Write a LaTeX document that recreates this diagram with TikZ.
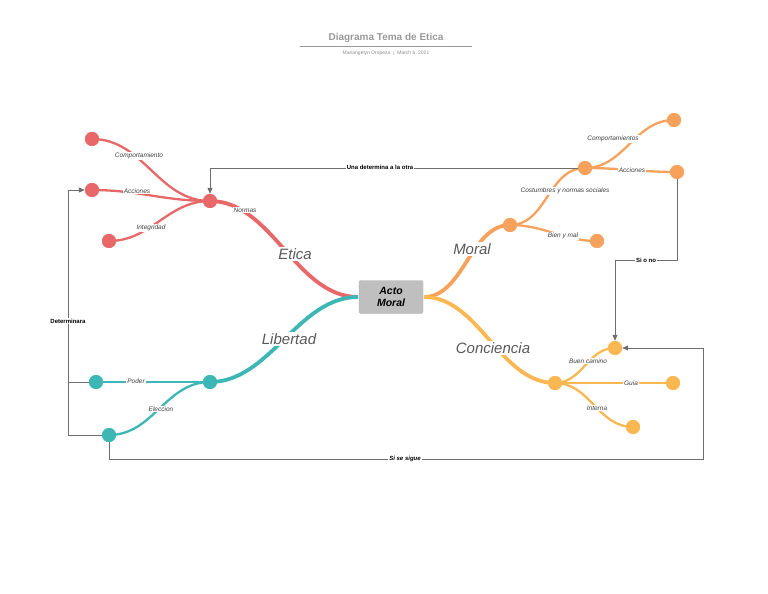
\documentclass[tikz,border=0pt]{standalone}
\usepackage{fontspec}
\setmainfont{Liberation Sans}
\usetikzlibrary{arrows.meta}
\definecolor{cred}{HTML}{E8686A}
\definecolor{corg}{HTML}{F7A25C}
\definecolor{cyel}{HTML}{FBB852}
\definecolor{ctea}{HTML}{3CB7B5}
\definecolor{cgr}{HTML}{6E6E6E}
\begin{document}
\begin{tikzpicture}[x=1pt,y=-1pt,
  dot/.style={circle,fill=#1,minimum size=14pt,inner sep=0pt},
  main/.style={line width=3.8pt,draw=#1},
  leaf/.style={line width=2.3pt,draw=#1},
  lbl/.style={fill=white,inner sep=1pt,font=\fontsize{6.5}{7}\selectfont\itshape,text=black!75},
  big/.style={fill=white,inner sep=1pt,font=\fontsize{15}{17}\selectfont\itshape,text=black!65},
  conn/.style={draw=cgr,line width=0.8pt},
  clbl/.style={fill=white,inner sep=1pt,font=\fontsize{6}{7}\selectfont\bfseries},
  arr/.style={-{Triangle[length=6pt,width=5pt]}}]
\useasboundingbox (0,0) rectangle (768,594);
\node[font=\fontsize{10}{12}\selectfont\bfseries,text=black!40] (title) at (386,38) {Diagrama Tema de Etica};
\draw[black!40,line width=0.6pt] (300,46) -- (472,46);
\node[font=\fontsize{5}{6}\selectfont,text=black!45] (sub) at (386,53) {Mariangelyn Oropeza \ | \ March 6, 2021};

% nodes
\node[dot=cred] (norm) at (210,201) {};
\node[dot=cred] (r1) at (92,139) {};
\node[dot=cred] (r2) at (92,190) {};
\node[dot=cred] (r3) at (109,241) {};
\node[dot=corg] (mor) at (510,225) {};
\node[dot=corg] (cos) at (585,168) {};
\node[dot=corg] (bien) at (597,241) {};
\node[dot=corg] (o1) at (674,120) {};
\node[dot=corg] (o2) at (677,172) {};
\node[dot=cyel] (con) at (555,383) {};
\node[dot=cyel] (y1) at (615,348) {};
\node[dot=cyel] (y2) at (673,383) {};
\node[dot=cyel] (y3) at (633,427) {};
\node[dot=ctea] (lib) at (210,382) {};
\node[dot=ctea] (t1) at (96,382) {};
\node[dot=ctea] (t2) at (109,435) {};

% branches
\draw[main=cred] (358,297) to[out=180,in=0,looseness=0.9] (norm.center);
\draw[main=corg] (424,297) to[out=0,in=180,looseness=0.9] (mor.center);
\draw[main=cyel] (424,297) to[out=0,in=180,looseness=0.9] (con.center);
\draw[main=ctea] (358,297) to[out=180,in=0,looseness=0.9] (lib.center);
\node[draw=black!30,fill=black!25,rounded corners=2pt,minimum width=64pt,minimum height=33pt,align=center,font=\fontsize{10.5}{12.5}\selectfont\bfseries\itshape] (acto) at (391,297) {Acto\\Moral};

\draw[leaf=cred] (norm.center) to[out=180,in=0] (r1.center);
\draw[leaf=cred] (norm.center) to[out=180,in=0] (r2.center);
\draw[leaf=cred] (norm.center) to[out=180,in=0] (r3.center);
\draw[leaf=corg] (mor.center) to[out=0,in=180] (cos.center);
\draw[leaf=corg] (mor.center) to[out=0,in=180] (bien.center);
\draw[leaf=corg] (cos.center) to[out=0,in=180] (o1.center);
\draw[leaf=corg] (cos.center) to[out=0,in=180] (o2.center);
\draw[leaf=cyel] (con.center) to[out=0,in=180] (y1.center);
\draw[leaf=cyel] (con.center) -- (y2.center);
\draw[leaf=cyel] (con.center) to[out=0,in=180] (y3.center);
\draw[leaf=ctea] (lib.center) to[out=180,in=0] (t1.center);
\draw[leaf=ctea] (lib.center) to[out=180,in=0] (t2.center);
\foreach \n/\c in {norm/cred,r1/cred,r2/cred,r3/cred,mor/corg,cos/corg,bien/corg,o1/corg,o2/corg,con/cyel,y1/cyel,y2/cyel,y3/cyel,lib/ctea,t1/ctea,t2/ctea}
  \fill[\c] (\n) circle (7pt);

% labels
\node[big] (le) at (295,254) {Etica};
\node[big] (lm) at (472,249) {Moral};
\node[big] (lc) at (493,348) {Conciencia};
\node[big] (ll) at (289,339) {Libertad};
\node[lbl] at (139,156) {Comportamiento};
\node[lbl] at (137,191) {Acciones};
\node[lbl] at (151,228) {Integridad};
\node[lbl] at (245,210) {Normas};
\node[lbl] at (565,191) {Costumbres y normas sociales};
\node[lbl] at (563,236) {Bien y mal};
\node[lbl] at (613,139) {Comportamientos};
\node[lbl] at (632,170) {Acciones};
\node[lbl] at (588,361) {Buen camino};
\node[lbl] at (631,383) {Guia};
\node[lbl] at (597,408) {Interna};
\node[lbl] at (136,381) {Poder};
\node[lbl] at (161,409) {Eleccion};

% connectors
\coordinate (c1) at (210,168);
\draw[conn,arr] (cos.west) -- (c1) -- (norm.north);
\node[clbl] at (380,167) {Una determina a la otra};
\draw[conn,arr] (o2.south) -- (677,260) -- (615,260) -- (y1.north);
\node[clbl] at (646,260) {Si o no};
\draw[conn,arr] (t2.south) -- (109,459) -- (703,459) -- (703,348) -- (y1.east);
\node[clbl,font=\fontsize{6}{7}\selectfont\bfseries\itshape] at (405,459) {Si se sigue};
\draw[conn,arr] (t1.west) -- (68,382) -- (68,190) -- (r2.west);
\draw[conn] (t2.west) -- (68,435) -- (68,382);
\node[clbl] at (68,321) {Determinara};
\end{tikzpicture}
\end{document}
